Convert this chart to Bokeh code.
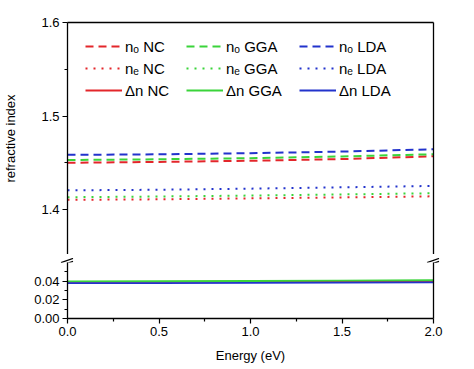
from bokeh.plotting import figure
from bokeh.models import (Range1d, LinearAxis, FixedTicker, NumeralTickFormatter,
                          Legend, LegendItem, Div)
from bokeh.layouts import column
from bokeh.embed import file_html
from bokeh.resources import INLINE

# ---------------- data ----------------
energy = [0.0, 0.5, 1.0, 1.5, 2.0]

no_nc = [1.4500, 1.4510, 1.4522, 1.4540, 1.4570]
no_gga = [1.4530, 1.4538, 1.4550, 1.4568, 1.4592]
no_lda = [1.4585, 1.4591, 1.4603, 1.4620, 1.4645]

ne_nc = [1.4104, 1.4110, 1.4120, 1.4130, 1.4142]
ne_gga = [1.4132, 1.4140, 1.4150, 1.4162, 1.4175]
ne_lda = [1.4206, 1.4212, 1.4224, 1.4238, 1.4253]

dn_nc = [0.0392, 0.0393, 0.0395, 0.0397, 0.0400]
dn_gga = [0.0398, 0.0399, 0.0402, 0.0406, 0.0410]
dn_lda = [0.0378, 0.0379, 0.0381, 0.0384, 0.0388]

x_ticks = [0.0, 0.5, 1.0, 1.5, 2.0]
x_minor = [0.25, 0.75, 1.25, 1.75]
upper_ticks = [1.4, 1.5, 1.6]
upper_minor = [1.45, 1.55]
lower_ticks = [0.00, 0.02, 0.04]
lower_minor = [0.01, 0.03, 0.05]

labels_nc = ["n\u2092 NC", "n\u2091 NC", "\u0394n NC"]
labels_gga = ["n\u2092 GGA", "n\u2091 GGA", "\u0394n GGA"]
labels_lda = ["n\u2092 LDA", "n\u2091 LDA", "\u0394n LDA"]

RED = "#e3262b"
GREEN = "#3ad43a"
BLUE = "#2233cc"
FONT = "Liberation Sans"
W = 463
LEFT = 67
RIGHT = 30
FRAME_W = W - LEFT - RIGHT
GAP = 8
DASH = "8 5"
DOT = "2 6"


def style_axis(ax, ticks=None, minor=None, fmt=None, labels=True):
    ax.axis_line_color = "black"
    ax.axis_line_width = 1.3
    ax.major_tick_line_color = "black"
    ax.minor_tick_line_color = "black"
    ax.major_tick_line_width = 1.2
    ax.minor_tick_line_width = 1.2
    ax.major_tick_in = 0
    ax.minor_tick_in = 0
    ax.major_tick_out = 5
    ax.minor_tick_out = 3
    ax.major_label_text_font = FONT
    ax.major_label_text_font_size = "13px"
    ax.major_label_text_color = "black"
    ax.axis_label_text_font = FONT
    ax.axis_label_text_font_size = "13px"
    ax.axis_label_text_font_style = "normal"
    ax.axis_label_text_color = "black"
    ax.major_label_standoff = 3
    if ticks is not None:
        ax.ticker = FixedTicker(ticks=ticks, minor_ticks=minor or [])
    if fmt is not None:
        ax.formatter = NumeralTickFormatter(format=fmt)
    if not labels:
        ax.ticker = FixedTicker(ticks=[], minor_ticks=[])
        ax.major_tick_out = 0
        ax.minor_tick_out = 0
        ax.major_label_standoff = 0
        ax.major_label_text_font_size = "0px"


def blank_axis():
    ax = LinearAxis()
    style_axis(ax, labels=False)
    return ax


xr = Range1d(0, 2)

# ---------------- upper panel ----------------
p1 = figure(width=W, height=254, x_range=xr, y_range=Range1d(1.352, 1.6),
            output_backend="svg", toolbar_location=None, x_axis_location=None,
            min_border_left=LEFT, min_border_right=RIGHT, min_border_top=22,
            min_border_bottom=0)
p1.outline_line_color = None
p1.grid.visible = False
style_axis(p1.yaxis[0], upper_ticks, upper_minor, "0.0")
p1.yaxis[0].axis_label = "refractive index"
p1.yaxis[0].axis_label_standoff = 20
p1.add_layout(blank_axis(), "above")
p1.add_layout(blank_axis(), "right")

r_no_nc = p1.line(energy, no_nc, line_color=RED, line_width=2, line_dash=DASH)
r_no_gga = p1.line(energy, no_gga, line_color=GREEN, line_width=2, line_dash=DASH)
r_no_lda = p1.line(energy, no_lda, line_color=BLUE, line_width=2, line_dash=DASH)
r_ne_nc = p1.line(energy, ne_nc, line_color=RED, line_width=2, line_dash=DOT)
r_ne_gga = p1.line(energy, ne_gga, line_color=GREEN, line_width=2, line_dash=DOT)
r_ne_lda = p1.line(energy, ne_lda, line_color=BLUE, line_width=2, line_dash=DOT)

# ---------------- lower panel ----------------
p2 = figure(width=W, height=107, x_range=xr, y_range=Range1d(0, 0.06),
            output_backend="svg", toolbar_location=None,
            min_border_left=LEFT, min_border_right=RIGHT, min_border_top=0,
            min_border_bottom=51)
p2.outline_line_color = None
p2.grid.visible = False
style_axis(p2.yaxis[0], lower_ticks, lower_minor, "0.00")
style_axis(p2.xaxis[0], x_ticks, x_minor, "0.0")
p2.xaxis[0].axis_label = "Energy (eV)"
p2.xaxis[0].axis_label_standoff = 9
p2.add_layout(blank_axis(), "right")

r_dn_nc = p2.line(energy, dn_nc, line_color=RED, line_width=1.8)
r_dn_gga = p2.line(energy, dn_gga, line_color=GREEN, line_width=1.8)
r_dn_lda = p2.line(energy, dn_lda, line_color=BLUE, line_width=1.8)

# legend swatches for the Δn entries (outside the upper panel's range)
s_nc = p1.line(energy, dn_nc, line_color=RED, line_width=1.8)
s_gga = p1.line(energy, dn_gga, line_color=GREEN, line_width=1.8)
s_lda = p1.line(energy, dn_lda, line_color=BLUE, line_width=1.8)

groups = [
    (labels_nc, [r_no_nc, r_ne_nc, s_nc], 18),
    (labels_gga, [r_no_gga, r_ne_gga, s_gga], 119),
    (labels_lda, [r_no_lda, r_ne_lda, s_lda], 232),
]
for labs, rends, xoff in groups:
    lg = Legend(items=[LegendItem(label=l, renderers=[r]) for l, r in zip(labs, rends)],
                location=(xoff, 154), orientation="vertical", padding=0, margin=0,
                border_line_color=None, background_fill_alpha=0,
                glyph_width=37, glyph_height=20, label_height=20, label_standoff=3,
                spacing=2, label_text_font=FONT, label_text_font_size="15px",
                label_text_color="black")
    p1.add_layout(lg, "center")

# ---------------- axis-break strip (decoration between the two panels) ----------------
def break_mark(cx):
    return (f'<line x1="{cx-6}" y1="4.6" x2="{cx+6}" y2="0.4" stroke="black" stroke-width="1.2"/>'
            f'<line x1="{cx-6}" y1="7.6" x2="{cx+6}" y2="3.4" stroke="black" stroke-width="1.2"/>')

svg = (f'<svg xmlns="http://www.w3.org/2000/svg" width="{W}" height="{GAP}" '
       f'style="display:block">' + break_mark(LEFT) + break_mark(LEFT + FRAME_W) + '</svg>')
strip = Div(text=svg, width=W, height=GAP, margin=0)

layout = column(p1, strip, p2, spacing=0)
open("out.html", "w").write(file_html(layout, INLINE))
